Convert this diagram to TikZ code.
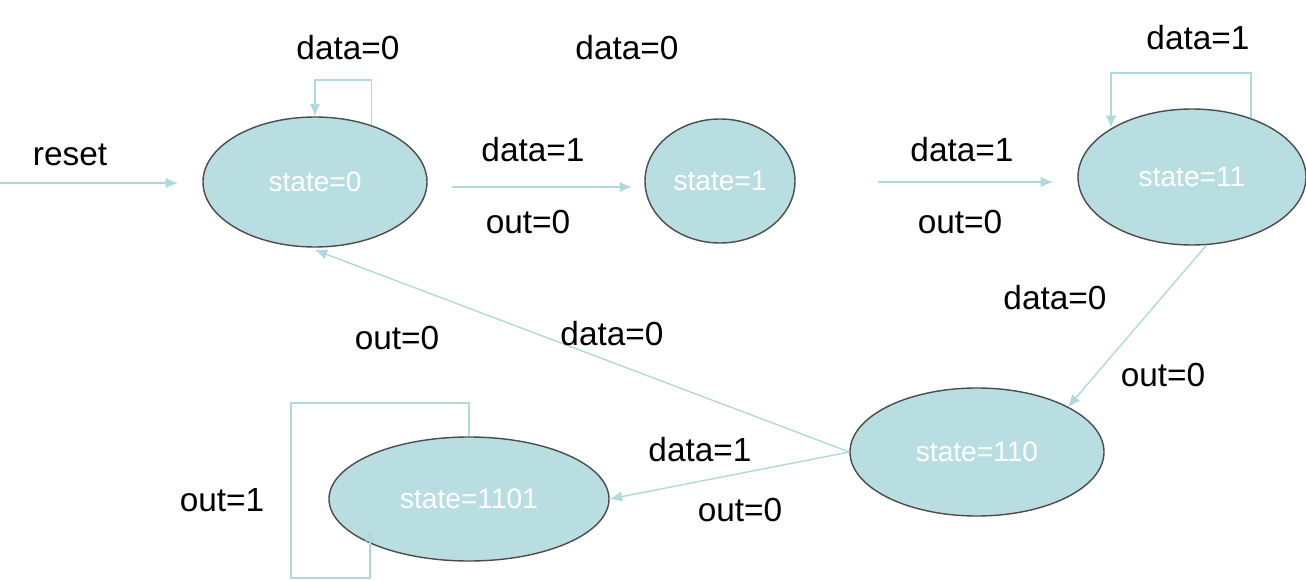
\documentclass[tikz,border=0pt]{standalone}
\usepackage{fontspec}
\setmainfont{Liberation Sans}
\usetikzlibrary{calc,shapes.geometric,arrows.meta}
\definecolor{stfill}{HTML}{B9DEE2}
\definecolor{edgec}{HTML}{AEDADE}
\tikzset{ st/.style = { ellipse % state
        , draw = black!70
        , fill = stfill
        , text = white
        , inner sep = 0pt
        , font = \fontsize{16}{18}\selectfont
        }
        , lb/.style = { rectangle % label
        , inner sep = 0pt
        , font = \fontsize{19}{22}\selectfont
        }
        }

\begin{document}
\begin{tikzpicture}[x=0.02cm, y=-0.02cm, thick,
        edge_style/.style={draw=edgec, thick, -{Latex[length=7pt,width=6pt]}}]
        \useasboundingbox (0,0) rectangle (1306,581);

        \node [st, minimum width=224*0.02cm, minimum height=130*0.02cm] (s0) at (315,182) {state=0};
        \node [st, minimum width=150*0.02cm, minimum height=124*0.02cm] (s1) at (720,181) {state=1};
        \node [st, minimum width=228*0.02cm, minimum height=136*0.02cm] (s11) at (1192,177) {state=11};
        \node [st, minimum width=254*0.02cm, minimum height=128*0.02cm] (s110) at (977,452) {state=110};
        \node [st, minimum width=280*0.02cm, minimum height=124*0.02cm] (s1101) at (469,499) {state=1101};

        \coordinate (rst) at (0,183);
        \coordinate (rsth) at (178,183);
        \coordinate (a0) at (452,187);
        \coordinate (a1) at (632,187);
        \coordinate (b0) at (878,182);
        \coordinate (b1) at (1053,182);

        \draw [edge_style] (rst) -- (rsth);
        \draw [edge_style] (s0.45) |- (315,80) -- (s0.north);
        \draw [edge_style] (a0) -- (a1);
        \draw [edge_style] (b0) -- (b1);
        \draw [edge_style] (s11.45) |- (1111,73) -- (1111,128);
        \draw [edge_style] (s11.282) -- (1068,407);
        \draw [edge_style] (s110.west) -- (315,250);
        \draw [edge_style] (s110.west) -- (s1101.east);
        \draw [edge_style] (s1101.north) |- (291,403) |- (370,578) -- (370,529);

        \node [lb] (lreset) at (70,155) {reset};
        \node [lb] (l0a) at (348,48) {data=0};
        \node [lb] (l0b) at (627,48) {data=0};
        \node [lb] (l1a) at (533,150) {data=1};
        \node [lb] (l1b) at (528,222) {out=0};
        \node [lb] (l2a) at (962,150) {data=1};
        \node [lb] (l2b) at (960,222) {out=0};
        \node [lb] (l3a) at (1198,38) {data=1};
        \node [lb] (l4a) at (1055,298) {data=0};
        \node [lb] (l4b) at (1163,375) {out=0};
        \node [lb] (l5a) at (612,334) {data=0};
        \node [lb] (l5b) at (397,338) {out=0};
        \node [lb] (l6a) at (700,450) {data=1};
        \node [lb] (l6b) at (740,510) {out=0};
        \node [lb] (l7a) at (222,500) {out=1};
\end{tikzpicture}
\end{document}
